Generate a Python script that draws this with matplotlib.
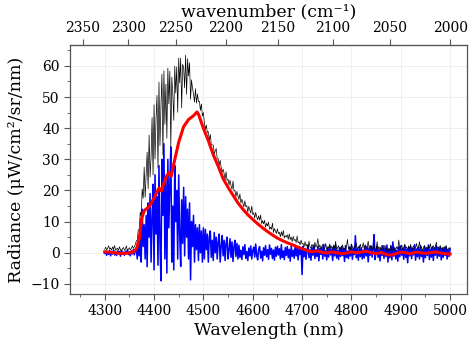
import numpy as np
import matplotlib
matplotlib.use("Agg")
import matplotlib.pyplot as plt
from matplotlib.ticker import MultipleLocator

# ---------------- data ----------------
# smooth model (red)
red_wl = [4300, 4310, 4320, 4330, 4340, 4350, 4360, 4365, 4370, 4375, 4380,
          4390, 4400, 4405, 4410, 4415, 4420, 4425, 4430, 4435, 4440, 4450,
          4460, 4470, 4480, 4487, 4490, 4500, 4510, 4520, 4530, 4540, 4550,
          4560, 4570, 4580, 4590, 4600, 4610, 4620, 4630, 4640, 4650, 4660,
          4670, 4680, 4690, 4700, 4710, 4720, 4730, 4740, 4750, 4760, 4770,
          4780, 4790, 4800, 4810, 4820, 4830, 4840, 4850, 4860, 4870, 4880,
          4890, 4900, 4910, 4920, 4930, 4940, 4950, 4960, 4970, 4980, 4990, 5000]
red_val = [0.3, 0.2, 0.0, -0.2, -0.2, -0.1, 0.4, 1.5, 4.5, 11.0, 13.5,
           14.8, 17.5, 19.2, 20.8, 19.8, 22.4, 24.5, 25.8, 24.6, 28.5, 35.5,
           40.5, 42.8, 44.0, 45.2, 44.5, 40.0, 36.0, 31.5, 27.8, 23.8, 21.0,
           18.5, 16.0, 14.0, 12.2, 10.7, 9.3, 8.0, 6.8, 5.7, 4.7, 3.9,
           3.2, 2.6, 1.9, 1.3, 0.7, 0.3, 0.6, 0.2, -0.1, 0.3, 0.0,
           -0.3, -0.1, 0.3, 0.0, 0.2, 0.5, 0.0, -0.3, 0.1, -0.5, -0.8,
           -0.3, 0.2, 0.0, -0.3, 0.2, 0.0, -0.2, 0.0, 0.3, -0.1, -0.3, -0.4]

# measured spectrum (black): excess above the red model, every 2 nm 4300..5000
black_excess = [
    0.8, 1.5, 0.6, 1.2, 2.0, 0.9, 1.4, 0.7, 1.8, 1.1,
    2.3, 0.8, 1.3, 1.6, 0.9, 2.1, 1.2, 0.7, 1.5, 1.9,
    1.0, 1.4, 2.4, 0.8, 1.2, 1.7, 0.9, 1.3, 2.0, 1.1,
    1.5, 1.8, 2.5,
    2, 4, 3, 6, 2, 9, 5, 14, 4, 11,
    18, 6, 23, 9, 15, 27, 8, 30, 12, 24,
    31, 7, 34, 14, 27, 37, 10, 36, 18, 30,
    12, 34, 22, 33, 9, 31, 24, 14, 30, 20,
    27, 11, 27, 18, 25, 8, 21, 19, 12, 22,
    9, 20, 14, 18, 6, 12, 9, 7, 4, 8,
    3, 6, 4, 5, 3, 6, 3, 5,
    2.5, 1.2, 3.4, 1.8, 2.9, 0.9, 3.8, 1.5, 2.2, 3.1,
    1.0, 2.7, 4.2, 1.6, 2.4, 1.1, 3.5, 2.0, 1.3, 3.0,
    2.2, 0.8, 3.9, 1.7, 2.6, 1.2, 3.3, 2.1, 1.4, 4.5,
    1.8, 2.5, 1.0, 3.2, 2.3, 1.5, 3.7, 1.2, 2.8, 2.0,
    1.1, 3.4, 1.9, 2.6, 0.9, 3.0, 2.2, 1.4, 4.0, 1.6,
    2.4, 1.0, 3.1, 2.0, 1.3, 2.8, 1.7, 3.6, 1.1, 2.3,
    1.5, 2.9, 0.9, 2.4, 1.8, 3.3, 1.2, 2.1, 1.6, 3.8,
    1.0, 2.5, 1.9, 1.3, 3.0, 1.6, 2.2, 0.9, 2.7, 1.5,
    3.4, 1.1, 2.0, 1.7, 2.6, 1.2, 3.1, 1.4, 2.3, 1.0,
    2.8, 1.6, 2.1, 1.2, 3.5, 1.4, 1.9, 1.0, 2.6, 1.5,
    1.8, 0.9, 2.6, 1.3, 2.1, 0.7, 3.2, 1.5, 1.0, 2.4,
    1.6, 0.8, 2.9, 1.2, 1.9, 4.0, 1.1, 2.2, 0.9, 1.7,
    2.5, 1.0, 1.4, 3.0, 0.8, 2.0, 1.5, 2.7, 1.1, 1.8,
    0.9, 2.3, 1.4, 3.6, 1.0, 1.7, 2.4, 0.8, 1.9, 1.3,
    2.8, 1.1, 1.6, 0.9, 2.2, 4.3, 1.2, 1.8, 0.7, 2.5,
    1.4, 1.0, 2.1, 1.6, 3.1, 0.9, 1.8, 1.3, 2.6, 1.1,
    1.5, 2.9, 0.8, 2.0, 1.4, 1.7, 3.4, 1.0, 2.3, 1.2,
    1.9, 0.8, 2.6, 1.5, 1.1, 3.8, 1.3, 2.0, 0.9, 1.7,
    2.4, 1.0, 1.6, 2.8, 1.2, 1.9, 0.8, 2.2, 1.4, 3.3,
    1.1, 1.8, 2.5, 0.9, 1.5, 2.1, 1.2, 4.1, 1.0, 1.7,
    2.3, 0.8, 1.6, 2.7, 1.3, 1.9, 1.0, 2.4, 1.4, 3.0,
    0.9, 1.7, 2.2, 1.1, 1.5, 2.8, 1.0, 1.8, 3.5, 1.2,
    2.0, 0.8, 1.6, 2.5, 1.3, 1.9, 1.0, 2.3, 1.4, 2.9,
    1.1, 1.7, 2.1, 0.9, 1.5, 3.2, 1.2, 1.8, 1.0, 2.4,
    1.3, 1.9, 0.9, 2.2, 1.5, 2.7, 1.1, 1.6, 2.0, 1.4,
]

# residual (blue), every 2 nm 4300..5000
blue_val = [
    -0.2, 0.5, -0.8, 0.3, -0.5, 0.7, -1.0, 0.2, -0.4, 0.9,
    -0.7, 0.1, -0.9, 0.6, -0.3, 0.4, -1.1, 0.8, -0.5, 0.2,
    -0.8, 0.5, -0.2, 0.9, -0.6, 0.3, -1.0, 0.6, -0.4, 1.0,
    -0.7, 0.8, 1.5,
    -2, 3, -1, 6, -3, 14, 2, 9, -2, 12,
    -4.5, 16, 5, 19, -3, 11, 22, -5.5, 25, 6,
    18, -4, 28, 3, -9, 30, 12, 35, -2, 24,
    -6.5, 30, 8, 22, 34, -3, 15, -5.5, 28, 10,
    20, -2, 25, 6, -4.4, 17, 3, 21, -1, 18,
    5, 14, -2, 16, -8.7, 10, 2, 12, -3, 9,
    1, 8, -2.5, 9, 0, 7, -3, 8,
    -2, 7.5, 1, 6, -3, 5, 7, -1.5, 4, -2.5,
    6.5, 0, 5, -2, 3.5, 6, -3, 2, 5.5, -1,
    4, -2.5, 3, 5, -2, 1, 4.5, -1.5, 3.5, -2.8,
    2, 4, -1.2, 3, -2,
    2.4, -1.5, 0.8, -2.2, 1.9, -0.6, 2.6, -1.8, 0.4, -2.5,
    1.5, -1.0, 2.2, -2.0, 0.7, 1.8, -1.4, 2.8, -0.9, -2.3,
    1.2, 2.0, -1.7, 0.5, -2.6, 1.6, -0.8, 2.3, -1.3, 1.0,
    -2.1, 2.5, -0.5, 1.4, -1.9, 0.9, -2.4, 1.8, -1.1, 2.1,
    -0.7, 1.3, -2.0, 2.6, -1.5, 0.6, -2.2, 1.7, -0.9, 2.0,
    -1.6, 1.1, -2.7, 2.2, -1.2, 0.8, -1.8, 2.4, -1.0, 1.5,
    -2.3, 1.9, -0.6, 1.2,
    -7.0,
    2.0, -1.3, 1.4, -2.1, 0.7, 2.3, -1.6, 1.0, -2.4, 1.7,
    -0.8, 2.5, -1.9, 0.9, -1.2, 2.1, -2.6, 1.3, -0.5, 1.8,
    -2.0, 2.7, -1.1, 0.6, -2.3, 1.5, -1.4, 2.2, -0.7, 1.1,
    -2.5, 1.9, -1.0, 2.4, -1.7, 0.8, -2.2, 1.6, -1.2, 2.0,
    -0.9, 1.4, -2.8, 2.3, -1.5, 0.5, -1.9, 1.8, -1.1, 2.6,
    -2.1, 1.2, -0.6, 5.5, -1.6, 1.0, -2.4, 2.1, -1.3, 1.5,
    -2.0, 0.9, -1.7, 2.4, -1.0, 1.9, -2.9, 1.3, -0.8, 2.2,
    -1.4, 1.7, 5.8, -2.2, 0.7, 2.0, -1.5, 1.1, -2.6, 1.6,
    -0.9, 2.3, -1.8, 1.4, -1.2, 2.5, -3.0, 1.0, -1.6, 2.1,
    -2.3, 3.5, -1.1, 1.5, -2.0, 0.8, -2.7, 1.9, -1.3, 2.2,
    -0.8, 1.3, -2.1, 2.4, -1.5, 1.0, -3.2, 1.7, -1.0, 2.0,
    -1.9, 1.4, -0.7, 2.6, -2.4, 1.2, -1.3, 1.8, -2.0, 2.3,
    -1.2, 0.9, -3.0, 2.1, -1.6, 1.5, -0.9, 2.5, -2.2, 1.1,
    -1.4, 1.9, -2.5, 1.6, -0.8, 2.2, -1.7, 1.3, -1.1, 2.0,
    -2.3, 1.2, -1.5, 1.7, -0.9, 1.8, -2.0, 1.0, -1.2, 1.4,
]

wl_start, wl_end = 4300, 5000
x_ticks = [4300, 4400, 4500, 4600, 4700, 4800, 4900, 5000]
y_ticks = [-10, 0, 10, 20, 30, 40, 50, 60]
top_ticks = [2350, 2300, 2250, 2200, 2150, 2100, 2050, 2000]

# ---------------- plot ----------------
plt.rcParams['font.family'] = ['DejaVu Serif']
plt.rcParams['mathtext.fontset'] = 'dejavuserif'

fig = plt.figure(figsize=(4.74, 3.49), dpi=100)
ax = fig.add_axes([0.148, 0.158, 0.837, 0.713])

black_wl = np.linspace(wl_start, wl_end, len(black_excess))
black_val = np.interp(black_wl, red_wl, red_val) + np.asarray(black_excess)
blue_wl = np.linspace(wl_start, wl_end, len(blue_val))

ax.plot(blue_wl, blue_val, color='#0000ff', lw=1.1, zorder=2)
ax.plot(black_wl, black_val, color='black', lw=0.5, zorder=3)
ax.plot(red_wl, red_val, color='#ff0000', lw=2.2, zorder=4)

ax.set_xlim(4230, 5034)
ax.set_ylim(-13.2, 66.7)
ax.set_xticks(x_ticks)
ax.set_yticks(y_ticks)
ax.xaxis.set_minor_locator(MultipleLocator(50))
ax.yaxis.set_minor_locator(MultipleLocator(5))
ax.grid(True, which='major', color='#ececec', lw=0.6, zorder=0)

spine_col = '#555555'
for s in ax.spines.values():
    s.set_color(spine_col)
    s.set_linewidth(0.9)
ax.tick_params(which='major', direction='out', length=4, width=0.8,
               color=spine_col, labelsize=10, right=False, top=False)
ax.tick_params(which='minor', direction='out', length=2, width=0.6,
               color=spine_col, right=False, top=False)

ax.set_xlabel('Wavelength (nm)', fontsize=12.5, labelpad=3)
ax.set_ylabel('Radiance (μW/cm²/sr/nm)', fontsize=12.5, labelpad=4)

def fwd(x):
    x = np.asarray(x, dtype=float)
    with np.errstate(divide='ignore'):
        return 1e7 / x

sec = ax.secondary_xaxis('top', functions=(fwd, fwd))
sec.set_xticks(top_ticks)
sec.tick_params(direction='out', length=4, width=0.8, color=spine_col, labelsize=10)
sec.spines['top'].set_color(spine_col)
sec.set_xlabel('wavenumber (cm⁻¹)', fontsize=12.5, labelpad=3)

fig.savefig('out.png', dpi=100)
